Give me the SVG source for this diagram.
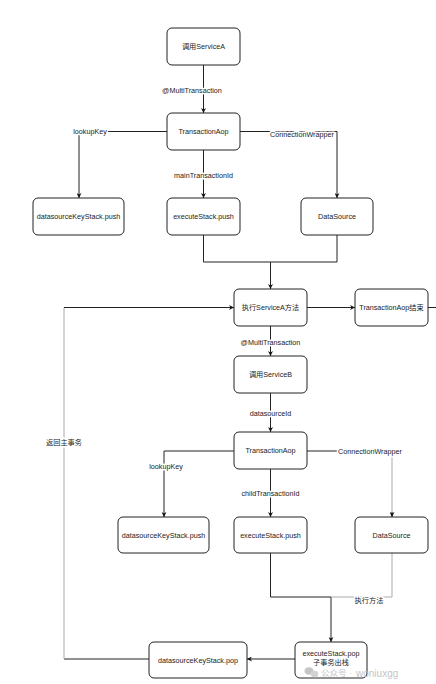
<svg xmlns="http://www.w3.org/2000/svg" width="436" height="684" viewBox="0 0 436 684">
<defs>
<marker id="arr" viewBox="0 0 10 10" refX="10" refY="5" markerWidth="5" markerHeight="5" orient="auto" markerUnits="userSpaceOnUse">
<path d="M0,0 L10,5 L0,10 L3,5 Z" fill="#111"/>
</marker>
<style>
.box{fill:#fff;stroke:#222;stroke-width:1}
.t{font-family:"Liberation Sans","Noto Sans CJK SC",sans-serif;font-size:7.2px;fill:#222;text-anchor:middle;dominant-baseline:central}
.lbl{font-family:"Liberation Sans","Noto Sans CJK SC",sans-serif;font-size:7.2px;fill:#222;text-anchor:middle;dominant-baseline:central;stroke:#fff;stroke-width:3;paint-order:stroke;stroke-linejoin:round}
.c{fill:none;stroke:#222;stroke-width:1}
.g{fill:none;stroke:#aaa;stroke-width:1}
.wm{font-family:"Liberation Sans","Noto Sans CJK SC",sans-serif;fill:#bbb;dominant-baseline:central}
</style>
</defs>
<rect width="436" height="684" fill="#fff"/>
<g id="connectors">
<path class="c" d="M203.5 65 V113" marker-end="url(#arr)"/>
<path class="c" d="M167 131.5 H79 V198" marker-end="url(#arr)"/>
<path class="c" d="M203.5 150 V198" marker-end="url(#arr)"/>
<path class="c" d="M240 131.5 H337 V198" marker-end="url(#arr)"/>
<path class="c" d="M203.5 235 V262 H270.5 V289" marker-end="url(#arr)"/>
<path class="c" d="M337 235 V262 H270.5"/>
<path class="c" d="M307 307.5 H355" marker-end="url(#arr)"/>
<path class="c" d="M428 307.5 H436"/>
<path class="c" d="M270.5 326 V356" marker-end="url(#arr)"/>
<path class="c" d="M270.5 393 V432" marker-end="url(#arr)"/>
<path class="c" d="M234 451 H164 V517" marker-end="url(#arr)"/>
<path class="c" d="M270.5 469 V517" marker-end="url(#arr)"/>
<path class="c" d="M307 451 H392"/>
<path class="g" d="M392 451 V517"/>
<path class="c" d="M392 512 V517" marker-end="url(#arr)"/>
<path class="c" d="M270.5 553 V597 H331 V642" marker-end="url(#arr)"/>
<path class="g" d="M392 553 V597 H331"/>
<path class="c" d="M295 659 H247" marker-end="url(#arr)"/>
<path class="c" d="M149 659 H64"/>
<path class="g" d="M64 659 V307.5"/>
<path class="c" d="M64 307.5 H234" marker-end="url(#arr)"/>
<text class="lbl" x="192" y="90">@MultiTransaction</text>
<text class="lbl" x="90" y="131.5">lookupKey</text>
<text class="lbl" x="203.5" y="175">mainTransactionId</text>
<text class="lbl" x="302" y="134">ConnectionWrapper</text>
<text class="lbl" x="270.5" y="342">@MultiTransaction</text>
<text class="lbl" x="270.5" y="413">datasourceId</text>
<text class="lbl" x="166" y="466">lookupKey</text>
<text class="lbl" x="270.5" y="493">childTransactionId</text>
<text class="lbl" x="370" y="451">ConnectionWrapper</text>
<text class="lbl" x="369" y="600">执行方法</text>
<text class="lbl" x="64" y="442">返回主事务</text>
</g>
<g id="n1"><rect class="box" x="167" y="28" width="73" height="37" rx="5"/><text class="t" x="203.5" y="46.5">调用ServiceA</text></g>
<g id="n2"><rect class="box" x="167" y="113" width="73" height="37" rx="5"/><text class="t" x="203.5" y="131.5">TransactionAop</text></g>
<g id="n3"><rect class="box" x="33" y="198" width="91" height="37" rx="5"/><text class="t" x="78.5" y="216.5">datasourceKeyStack.push</text></g>
<g id="n4"><rect class="box" x="167" y="198" width="73" height="37" rx="5"/><text class="t" x="203.5" y="216.5">executeStack.push</text></g>
<g id="n5"><rect class="box" x="301" y="198" width="72" height="37" rx="5"/><text class="t" x="337" y="216.5">DataSource</text></g>
<g id="n6"><rect class="box" x="234" y="289" width="73" height="37" rx="5"/><text class="t" x="270.5" y="307.5">执行ServiceA方法</text></g>
<g id="n7"><rect class="box" x="355" y="289" width="73" height="37" rx="5"/><text class="t" x="391.5" y="307.5">TransactionAop结束</text></g>
<g id="n8"><rect class="box" x="234" y="356" width="73" height="37" rx="5"/><text class="t" x="270.5" y="374.5">调用ServiceB</text></g>
<g id="n9"><rect class="box" x="234" y="432" width="73" height="37" rx="5"/><text class="t" x="270.5" y="450.5">TransactionAop</text></g>
<g id="n10"><rect class="box" x="118" y="517" width="91" height="36" rx="5"/><text class="t" x="163.5" y="535">datasourceKeyStack.push</text></g>
<g id="n11"><rect class="box" x="234" y="517" width="73" height="36" rx="5"/><text class="t" x="270.5" y="535">executeStack.push</text></g>
<g id="n12"><rect class="box" x="355" y="517" width="73" height="36" rx="5"/><text class="t" x="391.5" y="535">DataSource</text></g>
<g id="n13"><rect class="box" x="295" y="642" width="72" height="36" rx="5"/><text class="t" x="331" y="653.5">executeStack.pop</text><text class="t" x="331" y="662">子事务出栈</text></g>
<g id="n14"><rect class="box" x="149" y="642" width="98" height="36" rx="5"/><text class="t" x="198" y="660">datasourceKeyStack.pop</text></g>
<g id="watermark" opacity="0.85">
<ellipse cx="309" cy="671" rx="4.5" ry="3.8" fill="#bbb"/>
<ellipse cx="314.5" cy="674" rx="3.8" ry="3.2" fill="#ccc"/>
<text class="wm" x="321" y="673" font-size="8.5">公众号</text>
<text class="wm" x="349" y="673" font-size="8.5">·</text>
<text class="wm" x="356" y="673" font-size="10">woniuxgg</text>
</g>
</svg>
